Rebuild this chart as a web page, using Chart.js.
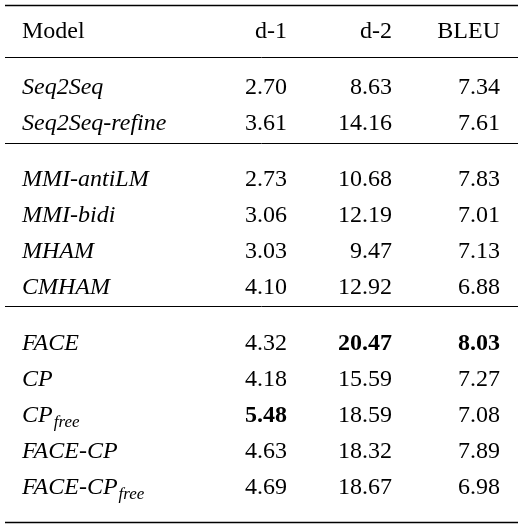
<!DOCTYPE html>
<html>
<head>
<meta charset="utf-8">
<script src="https://cdn.jsdelivr.net/npm/chart.js@4"></script>
<style>
  body { margin: 0; background: #fff; }
</style>
</head>
<body>
<canvas id="table" width="523" height="530"></canvas>
<script>
// Table data
const headers = ['Model', 'd-1', 'd-2', 'BLEU'];
const models = [
  ['Seq2Seq', ''], ['Seq2Seq-refine', ''],
  ['MMI-antiLM', ''], ['MMI-bidi', ''], ['MHAM', ''], ['CMHAM', ''],
  ['FACE', ''], ['CP', ''], ['CP', 'free'], ['FACE-CP', ''], ['FACE-CP', 'free']
];
const groups = [0, 0, 1, 1, 1, 1, 2, 2, 2, 2, 2];
const d1 = [2.70, 3.61, 2.73, 3.06, 3.03, 4.10, 4.32, 4.18, 5.48, 4.63, 4.69];
const d2 = [8.63, 14.16, 10.68, 12.19, 9.47, 12.92, 20.47, 15.59, 18.59, 18.32, 18.67];
const bleu = [7.34, 7.61, 7.83, 7.01, 7.13, 6.88, 8.03, 7.27, 7.08, 7.89, 6.98];

// Best value per column is bold
const best = [d1, d2, bleu].map(col => Math.max(...col));

const FONT = '"Liberation Serif", serif';
const GAP = 0.55;
const rowPos = models.map((m, i) => 1 + i + groups[i] * GAP + GAP);
const colRight = [null, 287, 392, 500];

const tablePlugin = {
  id: 'tablePlugin',
  afterDraw(chart) {
    const { ctx, scales: { x, y } } = chart;
    ctx.save();
    ctx.fillStyle = '#000';
    ctx.strokeStyle = '#000';
    ctx.textBaseline = 'middle';

    const rule = (pos, w) => {
      const py = Math.round(y.getPixelForValue(pos)) + 0.5;
      ctx.lineWidth = w;
      ctx.beginPath();
      ctx.moveTo(x.getPixelForValue(5), py);
      ctx.lineTo(x.getPixelForValue(518), py);
      ctx.stroke();
    };
    rule(-0.75, 1.5);
    rule(0.7, 1);
    rule((rowPos[1] + rowPos[2]) / 2 - 0.25, 1);
    rule((rowPos[5] + rowPos[6]) / 2 - 0.27, 1);
    rule(rowPos[rowPos.length - 1] + 0.95, 1.5);

    // header
    ctx.font = `24px ${FONT}`;
    ctx.textAlign = 'left';
    ctx.fillText(headers[0], x.getPixelForValue(22), y.getPixelForValue(0));
    ctx.textAlign = 'right';
    for (let c = 1; c < 4; c++) {
      ctx.fillText(headers[c], x.getPixelForValue(colRight[c]), y.getPixelForValue(0));
    }

    // rows
    models.forEach((m, i) => {
      const py = y.getPixelForValue(rowPos[i]);
      ctx.textAlign = 'left';
      ctx.font = `italic 24px ${FONT}`;
      const px = x.getPixelForValue(22);
      ctx.fillText(m[0], px, py);
      if (m[1]) {
        const w = ctx.measureText(m[0]).width;
        ctx.font = `italic 17px ${FONT}`;
        ctx.fillText(m[1], px + w + 1, py + 7);
      }
      ctx.textAlign = 'right';
      [d1, d2, bleu].forEach((col, c) => {
        const v = col[i];
        ctx.font = `${v === best[c] ? 'bold ' : ''}24px ${FONT}`;
        ctx.fillText(v.toFixed(2), x.getPixelForValue(colRight[c + 1]), py);
      });
    });
    ctx.restore();
  }
};

new Chart(document.getElementById('table'), {
  type: 'scatter',
  data: { datasets: [{ data: [] }] },
  plugins: [tablePlugin],
  options: {
    responsive: false,
    animation: false,
    layout: { padding: 0 },
    plugins: { legend: { display: false }, tooltip: { enabled: false } },
    scales: {
      x: { type: 'linear', min: 0, max: 523, display: false },
      y: { type: 'linear', reverse: true, min: -32 / 36, max: 498 / 36, display: false }
    }
  }
});
</script>
</body>
</html>
